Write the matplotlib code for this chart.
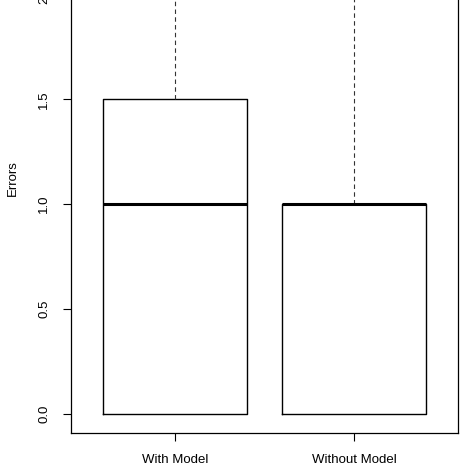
import matplotlib
matplotlib.use("Agg")
import matplotlib.pyplot as plt

plt.rcParams['font.family'] = ['Liberation Sans', 'DejaVu Sans']

labels = ["With Model", "Without Model"]
whislo = [0.0, 0.0]
q1 = [0.0, 0.0]
med = [1.0, 1.0]
q3 = [1.5, 1.0]
whishi = [2.25, 2.25]

stats = [dict(label=l, whislo=a, q1=b, med=c, q3=d, whishi=e, fliers=[])
         for l, a, b, c, d, e in zip(labels, whislo, q1, med, q3, whishi)]

fig = plt.figure(figsize=(4.74, 4.74), dpi=100)
W = 474.0
ax = fig.add_axes([71 / W, 41 / W, (458 - 71) / W, 510 / W])
ax.bxp(stats, positions=[1, 2], widths=0.8, showcaps=False,
       boxprops=dict(color="black", linewidth=1),
       medianprops=dict(color="black", linewidth=2.2),
       whiskerprops=dict(color="#333333", linewidth=0.8, linestyle=(0, (4, 3))))
ax.set_xlim(0.42, 2.58)
ax.set_ylim(-0.09, 2.34)
ax.set_yticks([0, 0.5, 1.0, 1.5, 2.0])
ax.set_yticklabels(["0.0", "0.5", "1.0", "1.5", "2.0"], rotation=90, va="center")
ax.set_xticks([1, 2])
ax.set_xticklabels(labels)
ax.tick_params(labelsize=9.5, length=6, pad=9)
ax.set_ylabel("Errors", fontsize=9.5, labelpad=14)
for s in ax.spines.values():
    s.set_linewidth(0.9)
fig.savefig("out.png", dpi=100)
